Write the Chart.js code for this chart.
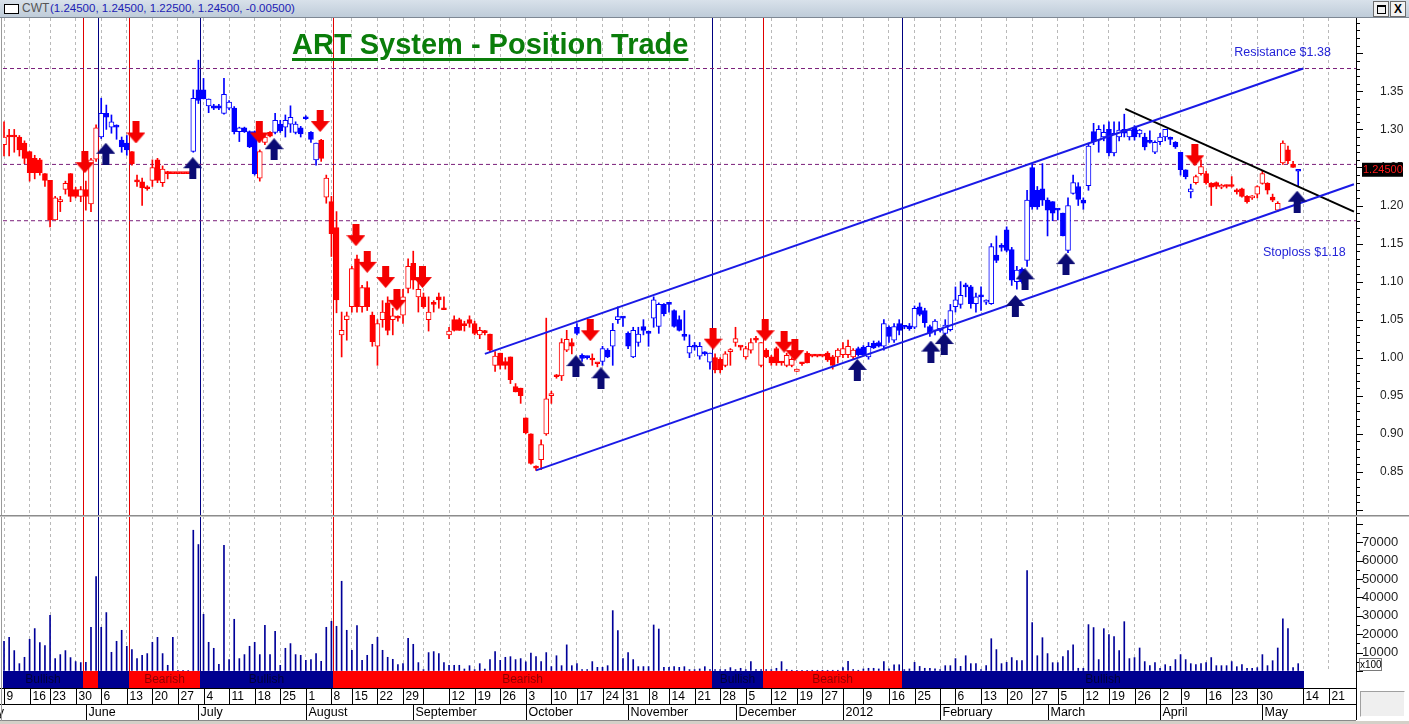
<!DOCTYPE html>
<html lang="en">
<head>
<meta charset="utf-8">
<title>CWT - ART System - Position Trade</title>
<script src="https://cdn.jsdelivr.net/npm/chart.js@4.4.1/dist/chart.umd.min.js"></script>
<style>
    html, body { margin: 0; padding: 0; }
    body {
        width: 1409px; height: 724px; overflow: hidden; position: relative;
        background: #d4d0c8; font-family: Arial, "Liberation Sans", sans-serif;
    }
    .window { position: absolute; left: 0; top: 0; width: 1409px; height: 721px; background: #fff; }
    .titlebar {
        position: absolute; left: 0; top: 0; width: 1409px; height: 17px; z-index: 5;
        background: linear-gradient(#d8e1ea, #bfccd9); border-bottom: 1px solid #7e8894;
        font-size: 11px; line-height: 17px; white-space: nowrap;
    }
    .titlebar .icon { position: absolute; left: 4px; top: 4px; width: 13px; height: 8px; border: 1px solid #000; background: #fff; }
    .titlebar .sym { position: absolute; left: 22px; top: 0; color: #555; font-size: 12px; }
    .titlebar .vals { position: absolute; left: 50px; top: 0; color: #1c1cb4; font-size: 11.5px; }
    .btn {
        position: absolute; top: 1px; width: 14px; height: 14px; border: 1px solid #6b6b6b;
        background: #f2f2f2; font-size: 12px; line-height: 14px; text-align: center; font-weight: bold;
    }
    .btn .sq { position: absolute; left: 3px; top: 3px; width: 7px; height: 6px; border: 1px solid #000; border-top-width: 2px; }
    .leftline { position: absolute; left: 1px; top: 18px; width: 1px; height: 703px; background: #9a9a9a; z-index: 5; }
    .separator { position: absolute; left: 0; top: 515px; width: 1409px; height: 0; border-top: 1px solid #8c8c8c; border-bottom: 1px solid #c4c4c4; z-index: 5; }
    .panel { position: absolute; left: 0; width: 1409px; }
    #priceBox { top: 10px; height: 513px; }
    #volBox { top: 508px; height: 216px; }
    .chart-title {
        position: absolute; left: 292px; top: 30px; z-index: 4;
        font: bold 29px/29px Arial, "Liberation Sans", sans-serif; color: #0a7d0a;
        text-decoration: underline; text-decoration-thickness: 3px; text-underline-offset: 4px;
    }
    .unit {
        position: absolute; left: 1359px; top: 658px; width: 21px; height: 11px; z-index: 5;
        border: 1px solid #7a7a7a; background: #fff; font-size: 10px; line-height: 11px; text-align: center;
    }
    .corner {
        position: absolute; left: 1360px; top: 691px; width: 43px; height: 24px; z-index: 5;
        background: #efefef; border: 1px solid; border-color: #a0a0a0 #fff #fff #a0a0a0;
    }
</style>
</head>
<body>
<div class="window"></div>
<div class="titlebar">
    <div class="icon"></div>
    <span class="sym">CWT</span>
    <span class="vals" id="ohlc"></span>
    <div class="btn" style="left:1373px"><div class="sq"></div></div>
    <div class="btn" style="left:1390px">X</div>
</div>
<div class="leftline"></div>
<div class="chart-title">ART System - Position Trade</div>
<div class="panel" id="priceBox"><canvas id="priceChart"></canvas></div>
<div class="panel" id="volBox"><canvas id="volChart"></canvas></div>
<div class="separator"></div>
<div class="unit">x100</div>
<div class="corner"></div>

<script>
// daily bars, index 0 = 9 May 2011 ... 253 = 11 May 2012 (SGX trading days)
const open = [
    1.280, 1.290, 1.290, 1.290, 1.282, 1.271, 1.262, 1.260, 1.242, 1.233,
    1.181, 1.205, 1.221, 1.242, 1.221, 1.212, 1.221, 1.202, 1.261, 1.290,
    1.321, 1.303, 1.303, 1.286, 1.282, 1.271, 1.232, 1.231, 1.223, 1.233,
    1.260, 1.230, 1.242, 1.242, 1.242, 1.242, 1.242, 1.271, 1.352, 1.352,
    1.331, 1.331, 1.331, 1.321, 1.328, 1.328, 1.297, 1.302, 1.297, 1.297,
    1.236, 1.283, 1.296, 1.296, 1.307, 1.303, 1.307, 1.296, 1.302, 1.316,
    1.296, 1.260, 1.286, 1.211, 1.205, 1.171, 1.030, 1.050, 1.067, 1.130,
    1.067, 1.092, 1.056, 1.015, 1.050, 1.072, 1.050, 1.052, 1.056, 1.091,
    1.124, 1.080, 1.080, 1.050, 1.070, 1.080, 1.065, 1.030, 1.050, 1.050,
    1.045, 1.050, 1.045, 1.030, 1.033, 1.031, 0.990, 1.006, 0.995, 1.001,
    0.962, 0.960, 0.921, 0.900, 0.857, 0.866, 0.900, 0.950, 0.975, 0.976,
    1.010, 1.020, 1.040, 1.003, 1.000, 0.999, 0.992, 0.995, 1.010, 1.015,
    1.050, 1.052, 1.032, 1.001, 1.020, 1.041, 1.032, 1.052, 1.041, 1.070,
    1.071, 1.062, 1.050, 1.028, 1.006, 1.014, 1.002, 1.005, 0.994, 1.000,
    0.998, 0.990, 1.008, 1.020, 1.014, 1.001, 1.010, 1.023, 0.990, 1.010,
    1.001, 1.012, 0.993, 0.990, 0.990, 0.982, 0.992, 1.006, 1.002, 1.002,
    1.002, 1.006, 1.001, 1.001, 1.004, 1.004, 1.001, 1.012, 1.014, 1.001,
    1.019, 1.020, 1.015, 1.040, 1.023, 1.045, 1.040, 1.042, 1.040, 1.067,
    1.062, 1.041, 1.036, 1.036, 1.032, 1.037, 1.067, 1.070, 1.093, 1.093,
    1.071, 1.080, 1.073, 1.071, 1.135, 1.146, 1.168, 1.142, 1.100, 1.116,
    1.128, 1.250, 1.220, 1.222, 1.207, 1.205, 1.194, 1.190, 1.141, 1.216,
    1.225, 1.207, 1.226, 1.297, 1.286, 1.290, 1.300, 1.269, 1.290, 1.300,
    1.290, 1.303, 1.294, 1.290, 1.284, 1.270, 1.284, 1.290, 1.288, 1.283,
    1.270, 1.247, 1.218, 1.230, 1.242, 1.242, 1.229, 1.230, 1.224, 1.225,
    1.225, 1.220, 1.222, 1.212, 1.210, 1.215, 1.229, 1.229, 1.211, 1.194,
    1.256, 1.273, 1.254, 1.245,
];
const high = [
    1.310, 1.300, 1.300, 1.292, 1.285, 1.271, 1.266, 1.262, 1.242, 1.233,
    1.212, 1.212, 1.232, 1.242, 1.224, 1.225, 1.232, 1.262, 1.306, 1.341,
    1.332, 1.319, 1.306, 1.290, 1.292, 1.271, 1.240, 1.236, 1.226, 1.260,
    1.262, 1.252, 1.245, 1.242, 1.242, 1.242, 1.242, 1.352, 1.391, 1.367,
    1.340, 1.333, 1.333, 1.367, 1.338, 1.330, 1.303, 1.303, 1.298, 1.298,
    1.273, 1.292, 1.297, 1.321, 1.312, 1.319, 1.331, 1.310, 1.304, 1.318,
    1.297, 1.282, 1.287, 1.240, 1.212, 1.192, 1.060, 1.060, 1.120, 1.135,
    1.095, 1.100, 1.060, 1.050, 1.075, 1.080, 1.065, 1.055, 1.090, 1.130,
    1.140, 1.100, 1.085, 1.080, 1.075, 1.085, 1.080, 1.040, 1.055, 1.052,
    1.048, 1.055, 1.048, 1.040, 1.036, 1.031, 1.008, 1.006, 1.000, 1.001,
    0.966, 0.960, 0.921, 0.900, 0.858, 0.892, 1.052, 0.956, 0.978, 1.025,
    1.036, 1.025, 1.045, 1.005, 1.002, 1.005, 0.993, 1.015, 1.012, 1.045,
    1.067, 1.054, 1.034, 1.040, 1.040, 1.050, 1.035, 1.080, 1.072, 1.071,
    1.072, 1.063, 1.055, 1.062, 1.030, 1.020, 1.020, 1.008, 1.006, 1.005,
    1.000, 1.008, 1.012, 1.040, 1.015, 1.015, 1.025, 1.028, 1.020, 1.012,
    1.003, 1.014, 0.995, 1.006, 1.000, 0.985, 0.994, 1.008, 1.003, 1.003,
    1.003, 1.008, 1.003, 1.012, 1.020, 1.023, 1.012, 1.014, 1.016, 1.020,
    1.022, 1.022, 1.050, 1.042, 1.045, 1.050, 1.042, 1.045, 1.068, 1.072,
    1.065, 1.043, 1.050, 1.038, 1.050, 1.070, 1.093, 1.100, 1.098, 1.095,
    1.085, 1.093, 1.076, 1.150, 1.160, 1.150, 1.172, 1.145, 1.120, 1.118,
    1.220, 1.255, 1.225, 1.255, 1.210, 1.205, 1.196, 1.190, 1.210, 1.240,
    1.230, 1.210, 1.282, 1.308, 1.305, 1.306, 1.310, 1.310, 1.310, 1.320,
    1.300, 1.305, 1.300, 1.295, 1.298, 1.285, 1.295, 1.300, 1.290, 1.284,
    1.270, 1.247, 1.228, 1.240, 1.260, 1.245, 1.230, 1.231, 1.228, 1.227,
    1.238, 1.222, 1.223, 1.213, 1.213, 1.226, 1.245, 1.230, 1.215, 1.205,
    1.285, 1.278, 1.258, 1.245,
];
const low = [
    1.265, 1.265, 1.270, 1.265, 1.255, 1.232, 1.235, 1.240, 1.225, 1.172,
    1.181, 1.192, 1.215, 1.205, 1.210, 1.205, 1.194, 1.192, 1.258, 1.288,
    1.300, 1.295, 1.287, 1.270, 1.266, 1.253, 1.225, 1.200, 1.220, 1.225,
    1.230, 1.225, 1.235, 1.242, 1.242, 1.242, 1.242, 1.270, 1.334, 1.340,
    1.322, 1.326, 1.326, 1.320, 1.326, 1.294, 1.284, 1.296, 1.276, 1.240,
    1.232, 1.280, 1.290, 1.294, 1.296, 1.290, 1.296, 1.294, 1.290, 1.313,
    1.283, 1.253, 1.258, 1.203, 1.133, 1.059, 1.001, 1.023, 1.060, 1.060,
    1.060, 1.062, 1.015, 0.990, 1.040, 1.030, 1.030, 1.048, 1.045, 1.085,
    1.090, 1.060, 1.065, 1.035, 1.060, 1.065, 1.063, 1.025, 1.035, 1.036,
    1.035, 1.040, 1.030, 1.025, 1.030, 1.008, 0.982, 0.985, 0.985, 0.966,
    0.955, 0.940, 0.900, 0.860, 0.852, 0.853, 0.898, 0.940, 0.973, 0.970,
    1.008, 1.005, 1.030, 0.995, 0.998, 0.990, 0.988, 0.990, 1.000, 0.990,
    1.045, 1.041, 1.012, 1.000, 1.015, 1.030, 1.015, 1.040, 1.032, 1.055,
    1.060, 1.040, 1.035, 1.023, 1.000, 1.010, 0.998, 1.003, 0.985, 0.980,
    0.980, 0.988, 0.990, 1.015, 1.010, 0.998, 1.006, 1.020, 0.988, 1.000,
    0.990, 0.990, 0.990, 0.988, 0.988, 0.982, 0.990, 0.993, 1.001, 1.001,
    1.001, 0.995, 0.985, 0.993, 1.000, 1.000, 0.998, 1.002, 1.002, 0.998,
    1.012, 1.014, 1.010, 1.020, 1.020, 1.030, 1.038, 1.036, 1.038, 1.055,
    1.040, 1.028, 1.030, 1.034, 1.030, 1.035, 1.060, 1.065, 1.080, 1.065,
    1.060, 1.062, 1.070, 1.070, 1.125, 1.140, 1.139, 1.095, 1.090, 1.098,
    1.120, 1.195, 1.195, 1.200, 1.160, 1.180, 1.181, 1.160, 1.138, 1.215,
    1.200, 1.195, 1.220, 1.280, 1.270, 1.285, 1.265, 1.265, 1.285, 1.290,
    1.286, 1.286, 1.290, 1.273, 1.282, 1.268, 1.280, 1.285, 1.280, 1.275,
    1.240, 1.235, 1.210, 1.228, 1.240, 1.228, 1.200, 1.222, 1.222, 1.223,
    1.224, 1.215, 1.211, 1.203, 1.208, 1.210, 1.228, 1.215, 1.205, 1.192,
    1.254, 1.255, 1.250, 1.225,
];
const close = [
    1.290, 1.290, 1.290, 1.273, 1.262, 1.243, 1.243, 1.243, 1.233, 1.181,
    1.210, 1.207, 1.229, 1.212, 1.212, 1.221, 1.212, 1.260, 1.302, 1.321,
    1.316, 1.310, 1.303, 1.277, 1.273, 1.255, 1.231, 1.223, 1.222, 1.250,
    1.233, 1.248, 1.242, 1.242, 1.242, 1.242, 1.242, 1.341, 1.338, 1.340,
    1.340, 1.328, 1.328, 1.346, 1.336, 1.297, 1.302, 1.297, 1.277, 1.242,
    1.271, 1.290, 1.291, 1.312, 1.298, 1.312, 1.316, 1.307, 1.294, 1.314,
    1.287, 1.282, 1.262, 1.236, 1.163, 1.076, 1.036, 1.055, 1.117, 1.067,
    1.092, 1.067, 1.021, 1.045, 1.060, 1.036, 1.055, 1.052, 1.080, 1.120,
    1.102, 1.090, 1.067, 1.060, 1.070, 1.076, 1.063, 1.035, 1.036, 1.036,
    1.042, 1.045, 1.032, 1.036, 1.033, 1.010, 1.002, 0.990, 0.990, 0.971,
    0.955, 0.950, 0.901, 0.861, 0.855, 0.886, 0.946, 0.953, 0.975, 1.020,
    1.024, 1.015, 1.032, 0.999, 1.000, 0.997, 0.992, 1.012, 1.001, 1.036,
    1.054, 1.052, 1.015, 1.036, 1.031, 1.036, 1.032, 1.076, 1.070, 1.058,
    1.070, 1.041, 1.036, 1.028, 1.015, 1.014, 1.015, 1.005, 1.006, 0.984,
    0.984, 1.005, 1.010, 1.025, 1.014, 1.012, 1.020, 1.023, 1.020, 1.001,
    0.993, 0.993, 0.993, 1.003, 0.998, 0.985, 0.992, 0.993, 1.002, 1.002,
    1.002, 0.997, 0.990, 1.010, 1.012, 1.015, 1.010, 1.004, 1.004, 1.015,
    1.013, 1.015, 1.045, 1.028, 1.041, 1.036, 1.040, 1.038, 1.065, 1.057,
    1.046, 1.032, 1.048, 1.036, 1.043, 1.062, 1.076, 1.082, 1.093, 1.071,
    1.080, 1.080, 1.075, 1.146, 1.128, 1.145, 1.141, 1.102, 1.115, 1.100,
    1.207, 1.198, 1.198, 1.207, 1.194, 1.190, 1.194, 1.160, 1.200, 1.230,
    1.208, 1.203, 1.278, 1.284, 1.300, 1.296, 1.269, 1.295, 1.299, 1.295,
    1.299, 1.290, 1.299, 1.277, 1.283, 1.283, 1.290, 1.300, 1.287, 1.277,
    1.247, 1.238, 1.222, 1.238, 1.251, 1.230, 1.224, 1.225, 1.227, 1.225,
    1.225, 1.218, 1.212, 1.205, 1.212, 1.225, 1.242, 1.220, 1.207, 1.203,
    1.282, 1.259, 1.250, 1.245,
];
// volume in units of 100 shares
const volume = [
    16140, 18300, 11090, 4000, 7450, 17230, 23040, 15430, 13800, 30270,
    6740, 8910, 11090, 7280, 5110, 4570, 4730, 23750, 51300, 23750,
    31740, 10160, 16140, 22120, 13440, 11630, 6740, 8530, 9460, 15600,
    18300, 9460, 3100, 18300, 300, 300, 300, 76470, 68700, 30800,
    15600, 12340, 3640, 68320, 6200, 28100, 6740, 8910, 13440, 15600,
    8910, 24840, 8910, 21580, 3100, 12340, 14890, 8910, 8530, 5800,
    6200, 9460, 5270, 23750, 27010, 24300, 48750, 22120, 11250, 24670,
    5800, 8530, 14510, 18300, 11250, 7450, 6360, 3480, 4000, 17770,
    14510, 4570, 760, 10000, 10540, 9460, 4570, 3100, 3100, 3100,
    1100, 2900, 760, 4000, 1100, 6200, 10540, 5800, 7450, 7800,
    6200, 6740, 5000, 9800, 7800, 5100, 10000, 2400, 8300, 2900,
    14200, 2900, 4000, 760, 760, 5100, 2000, 2000, 2900, 32800,
    21900, 6740, 10000, 6200, 2400, 2400, 2400, 25000, 22800, 2000,
    2000, 2360, 2000, 2360, 760, 760, 1120, 2360, 760, 760,
    760, 760, 1840, 760, 1480, 760, 5100, 760, 760, 760,
    760, 1480, 5100, 760, 400, 400, 400, 400, 400, 400,
    400, 400, 400, 400, 1840, 5300, 760, 400, 1120, 1480,
    1480, 1120, 5100, 1120, 3400, 3400, 760, 1120, 4700, 2500,
    1480, 1480, 1120, 760, 2900, 2900, 6740, 2530, 8300, 4000,
    4000, 760, 2900, 17550, 11630, 4000, 4700, 7300, 5600, 5600,
    54500, 26300, 8300, 18100, 9460, 4530, 4530, 7800, 11090, 14200,
    1480, 1480, 25200, 23600, 6200, 23000, 19800, 18700, 11090, 26800,
    6740, 7300, 12500, 5100, 2900, 4530, 1480, 3440, 2530, 6200,
    8900, 6200, 4000, 3440, 4000, 4530, 7300, 2900, 2900, 2900,
    5100, 2360, 3440, 1480, 1480, 1840, 8900, 2900, 5600, 12500,
    28400, 23000, 1840, 4000,
];

// ART trend colouring of the candles: [first bar, 'r' red / 'b' blue]
const colorRuns = [[0, 'r'], [19, 'b'], [25, 'r'], [37, 'b'], [50, 'r'], [53, 'b'], [62, 'r'],
    [112, 'b'], [115, 'r'], [117, 'b'], [139, 'r'], [167, 'b'], [233, 'r'], [253, 'b']];

// signal bars (vertical lines) and the regime band they switch
const signalIdx = [15.45, 18.38, 24.44, 38.32, 64.32, 138.4, 148.4, 175.56];
const signalType = ['sell', 'buy', 'sell', 'buy', 'sell', 'buy', 'sell', 'buy'];
const bandEnd = 254.2;

// arrows
const sellArrowX = [15.8, 25.8, 49.9, 61.8, 68.8, 71.0, 74.6, 76.8, 81.8, 114.6, 138.6, 148.8, 152.5, 154.6, 232.8];
const sellArrowY = [1.257, 1.296, 1.296, 1.311, 1.161, 1.126, 1.106, 1.076, 1.106, 1.036, 1.025, 1.036, 1.021, 1.010, 1.266];
const buyArrowX = [19.9, 36.9, 52.8, 111.8, 116.7, 166.8, 181.2, 183.8, 197.7, 199.6, 207.6, 252.8];
const buyArrowY = [1.268, 1.249, 1.274, 0.989, 0.973, 0.984, 1.008, 1.018, 1.068, 1.103, 1.123, 1.205];

// trend channel, falling trend line and horizontal levels
const channelUpperX = [94, 254];
const channelUpperY = [1.005, 1.38];
const channelLowerX = [104, 263.9];
const channelLowerY = [0.852, 1.228];
const downTrendX = [219.2, 263.9];
const downTrendY = [1.327, 1.192];
const resistance = 1.38;
const pivot = 1.254;
const stoploss = 1.18;

// date axis
const weekIdx = [0, 5, 9, 14, 19, 24, 29, 34, 39, 44, 49, 54, 59, 64, 68, 73, 78, 82, 87, 92,
    97, 102, 107, 112, 117, 121, 126, 130, 135, 140, 145, 150, 155, 160, 164, 168, 173, 178, 183, 186,
    191, 196, 201, 206, 211, 216, 221, 226, 230, 235, 240, 245, 254, 259];
const weekLbl = ['9', '16', '23', '30', '6', '13', '20', '27', '4', '11', '18', '25', '1', '8', '15', '22', '29', '', '12', '19',
    '26', '3', '10', '17', '24', '31', '8', '14', '21', '28', '5', '12', '19', '27', '', '9', '16', '25', '', '6',
    '13', '20', '27', '5', '12', '19', '26', '2', '9', '16', '23', '30', '14', '21'];
const monthIdx = [-5, 16, 38, 59, 80, 102, 122, 143, 164, 183, 204, 226, 246];
const monthLbl = ['May', 'June', 'July', 'August', 'September', 'October', 'November', 'December',
    '2012', 'February', 'March', 'April', 'May'];

// ---------------------------------------------------------------------------
const X_MIN = -0.2;
const X_MAX = 264.3;
const FONT = 'Arial, "Liberation Sans", sans-serif';
Chart.defaults.font.family = FONT;

const last = close.length - 1;
document.getElementById('ohlc').textContent =
    `(${open[last].toFixed(5)}, ${high[last].toFixed(5)}, ${low[last].toFixed(5)}, ${close[last].toFixed(5)}, ${(close[last] - close[last - 1]).toFixed(5)})`;

const candleColor = (i) => {
    let code = 'r';
    colorRuns.forEach(([start, c]) => { if (i >= start) code = c; });
    return code === 'b' ? '#0000ff' : '#ff0000';
};

const makeArrow = (up, color) => {
    const c = document.createElement('canvas');
    c.width = 19;
    c.height = 22;
    const g = c.getContext('2d');
    g.fillStyle = color;
    if (up) {
        g.beginPath(); g.moveTo(9.5, 0); g.lineTo(19, 11); g.lineTo(0, 11); g.closePath(); g.fill();
        g.fillRect(6, 10, 7, 12);
    } else {
        g.fillRect(6, 0, 7, 12);
        g.beginPath(); g.moveTo(0, 11); g.lineTo(19, 11); g.lineTo(9.5, 22); g.closePath(); g.fill();
    }
    return c;
};

const xGrid = () => ({
    type: 'linear',
    min: X_MIN,
    max: X_MAX,
    offset: false,
    afterBuildTicks: (scale) => { scale.ticks = weekIdx.map((v) => ({ value: v })); },
    afterFit: (scale) => { scale.height = 0; },
    ticks: { display: false },
    grid: { color: '#b9b9b9', drawTicks: false, offset: false },
    border: { display: false, dash: [3, 3] },
});

const drawSignals = (chart) => {
    const { ctx, chartArea: area, scales: { x } } = chart;
    ctx.save();
    ctx.lineWidth = 1;
    signalIdx.forEach((v, i) => {
        const px = Math.round(x.getPixelForValue(v)) + 0.5;
        ctx.strokeStyle = signalType[i] === 'buy' ? '#000080' : '#e00000';
        ctx.beginPath();
        ctx.moveTo(px, area.top);
        ctx.lineTo(px, area.bottom);
        ctx.stroke();
    });
    ctx.restore();
};

const drawAxisTicks = (chart, from, to, step, majorEvery) => {
    const { ctx, chartArea: area, scales: { y } } = chart;
    ctx.save();
    ctx.strokeStyle = '#000';
    ctx.lineWidth = 1;
    ctx.beginPath();
    for (let k = from; k <= to; k++) {
        const py = Math.round(y.getPixelForValue(k * step)) + 0.5;
        ctx.moveTo(area.right, py);
        ctx.lineTo(area.right + (k % majorEvery === 0 ? 7 : 4), py);
    }
    ctx.stroke();
    ctx.restore();
};

// text placed on the price panel (x in bars, y in price)
const notes = [
    { text: 'Resistance $' + resistance.toFixed(2), x: 240.5, y: 1.396 },
    { text: 'Stoploss $' + stoploss.toFixed(2), x: 246.1, y: 1.134 },
];

const priceExtras = {
    id: 'priceExtras',
    beforeDatasetsDraw: drawSignals,
    afterDraw(chart) {
        const { ctx, chartArea: area, scales: { x, y } } = chart;
        drawAxisTicks(chart, 80, 144, 0.01, 5);
        ctx.save();
        ctx.font = '12.5px ' + FONT;
        ctx.fillStyle = '#2424d8';
        notes.forEach((n) => ctx.fillText(n.text, x.getPixelForValue(n.x), y.getPixelForValue(n.y)));

        // last price tag
        const py = y.getPixelForValue(close[last]) - 1.5;
        ctx.fillStyle = '#000';
        ctx.fillRect(area.right + 6, py - 7, 41, 14);
        ctx.fillStyle = '#ff1a1a';
        ctx.font = '11px ' + FONT;
        ctx.textBaseline = 'middle';
        ctx.fillText(close[last].toFixed(5), area.right + 7, py + 0.5);
        ctx.restore();
    },
};

const volumeExtras = {
    id: 'volumeExtras',
    beforeDatasetsDraw: drawSignals,
    afterDraw(chart) {
        const { ctx, chartArea: area, scales: { x } } = chart;
        const px = (v) => x.getPixelForValue(v);
        drawAxisTicks(chart, 0, 16, 5000, 2);
        ctx.save();

        // Bullish / Bearish band
        const top = area.bottom;
        const bandH = 17;
        const edges = [X_MIN, ...signalIdx, bandEnd];
        ctx.font = '12px ' + FONT;
        ctx.textAlign = 'center';
        ctx.textBaseline = 'middle';
        for (let s = 0; s < edges.length - 1; s++) {
            const bull = s === 0 || signalType[s - 1] === 'buy';
            const x0 = Math.round(px(edges[s]));
            const x1 = Math.round(px(edges[s + 1]));
            ctx.fillStyle = bull ? '#000090' : '#ff0000';
            ctx.fillRect(x0, top, x1 - x0, bandH);
            const label = bull ? 'Bullish' : 'Bearish';
            if (ctx.measureText(label).width + 8 < x1 - x0) {
                ctx.fillStyle = bull ? '#00003c' : '#900000';
                ctx.fillText(label, (x0 + x1) / 2, top + bandH / 2 + 0.5);
            }
        }

        // week row and month row
        const r1 = top + bandH;
        const r2 = r1 + 16;
        const r3 = r2 + 16;
        ctx.fillStyle = '#fff';
        ctx.fillRect(0, r1, area.right, r3 - r1);
        ctx.strokeStyle = '#000';
        ctx.lineWidth = 1;
        ctx.beginPath();
        ctx.moveTo(0, r1 + 0.5); ctx.lineTo(area.right, r1 + 0.5);
        ctx.moveTo(0, r2 + 0.5); ctx.lineTo(area.right, r2 + 0.5);
        ctx.moveTo(area.right + 0.5, top); ctx.lineTo(area.right + 0.5, r3);
        ctx.stroke();
        ctx.strokeStyle = '#8a8a8a';
        ctx.beginPath();
        ctx.moveTo(0, r3 + 0.5); ctx.lineTo(area.right, r3 + 0.5);
        ctx.stroke();

        ctx.beginPath();
        ctx.rect(0, r1, area.right, r3 - r1);
        ctx.clip();
        ctx.strokeStyle = '#000';
        ctx.fillStyle = '#000';
        ctx.textAlign = 'left';
        ctx.font = '12px ' + FONT;
        weekIdx.forEach((v, i) => {
            const wx = Math.round(px(v)) + 0.5;
            ctx.beginPath(); ctx.moveTo(wx, r1); ctx.lineTo(wx, r2); ctx.stroke();
            if (weekLbl[i]) ctx.fillText(weekLbl[i], wx + 2, r1 + 8.5);
        });
        ctx.font = '12.5px ' + FONT;
        monthIdx.forEach((v, i) => {
            const mx = Math.round(px(v)) + 0.5;
            ctx.beginPath(); ctx.moveTo(mx, r2); ctx.lineTo(mx, r3); ctx.stroke();
            ctx.fillText(monthLbl[i], mx + 2, r2 + 8.5);
        });
        ctx.restore();
    },
};

const bars = close.map((_, i) => i);
const sellImg = makeArrow(false, '#f40000');
const buyImg = makeArrow(true, '#0b0b74');
const lineSet = (xs, ys, color, width, order, dash) => ({
    type: 'line',
    data: xs.map((v, i) => ({ x: v, y: ys[i] })),
    borderColor: color,
    borderWidth: width,
    borderDash: dash || [],
    pointRadius: 0,
    pointHoverRadius: 0,
    fill: false,
    tension: 0,
    order,
});
// arrows are drawn as image point styles; tiny radius keeps the layout from padding for them
const arrowSet = (xs, ys, img) => ({
    type: 'line',
    data: xs.map((v, i) => ({ x: v, y: ys[i] })),
    showLine: false,
    pointStyle: img,
    pointRadius: 0.5,
    pointHoverRadius: 0,
    pointBorderWidth: 0,
    borderWidth: 0,
    order: 1,
});

new Chart(document.getElementById('priceChart'), {
    type: 'bar',
    data: {
        datasets: [
            ...[resistance, pivot, stoploss].map((lv) => lineSet([X_MIN, X_MAX], [lv, lv], '#7a1f7a', 1, 5, [4, 3])),
            {
                // wicks
                data: bars.map((i) => ({ x: i, y: [low[i], high[i]] })),
                backgroundColor: bars.map(candleColor),
                barThickness: 1,
                grouped: false,
                order: 4,
            },
            {
                // bodies, hollow when the bar closed up
                data: bars.map((i) => ({ x: i, y: [Math.min(open[i], close[i]), Math.max(open[i], close[i])] })),
                backgroundColor: bars.map((i) => (close[i] > open[i] ? '#ffffff' : candleColor(i))),
                borderColor: bars.map(candleColor),
                borderWidth: 1,
                borderSkipped: false,
                barThickness: 5,
                minBarLength: 2,
                grouped: false,
                order: 3,
            },
            lineSet(channelUpperX, channelUpperY, '#1a1ae6', 2, 2),
            lineSet(channelLowerX, channelLowerY, '#1a1ae6', 2, 2),
            lineSet(downTrendX, downTrendY, '#000000', 2, 2),
            arrowSet(sellArrowX, sellArrowY, sellImg),
            arrowSet(buyArrowX, buyArrowY, buyImg),
        ],
    },
    options: {
        responsive: true,
        maintainAspectRatio: false,
        animation: false,
        events: [],
        layout: { padding: { left: 3, top: 8, bottom: 8, right: 0 } },
        plugins: { legend: { display: false }, tooltip: { enabled: false } },
        scales: {
            x: xGrid(),
            y: {
                position: 'right',
                min: 0.7933,
                max: 1.4464,
                afterFit: (scale) => { scale.width = 53; },
                ticks: {
                    stepSize: 0.05,
                    padding: 0,
                    color: '#1e1e1e',
                    font: { size: 12 },
                    callback: (v) => (v > 0.84 && v < 1.36 ? v.toFixed(2) : ''),
                },
                grid: { drawOnChartArea: false, tickLength: 24, tickColor: 'rgba(0,0,0,0)' },
                border: { color: '#000', width: 1 },
            },
        },
    },
    plugins: [priceExtras],
});

new Chart(document.getElementById('volChart'), {
    type: 'bar',
    data: {
        datasets: [{
            data: bars.map((i) => ({ x: i, y: volume[i] })),
            backgroundColor: '#000099',
            barThickness: 1,
            grouped: false,
        }],
    },
    options: {
        responsive: true,
        maintainAspectRatio: false,
        animation: false,
        events: [],
        layout: { padding: { left: 3, top: 8, bottom: 53, right: 0 } },
        plugins: { legend: { display: false }, tooltip: { enabled: false } },
        scales: {
            x: xGrid(),
            y: {
                position: 'right',
                min: 0,
                max: 84200,
                afterFit: (scale) => { scale.width = 53; },
                afterBuildTicks: (scale) => {
                    scale.ticks = [0, 10000, 20000, 30000, 40000, 50000, 60000, 70000, 80000].map((v) => ({ value: v }));
                },
                ticks: {
                    padding: 0,
                    color: '#1e1e1e',
                    font: { size: 13 },
                    callback: (v) => (v > 0 && v <= 70000 ? String(v) : ''),
                },
                grid: { drawOnChartArea: false, tickLength: 6, tickColor: 'rgba(0,0,0,0)' },
                border: { color: '#000', width: 1 },
            },
        },
    },
    plugins: [volumeExtras],
});
</script>
</body>
</html>
